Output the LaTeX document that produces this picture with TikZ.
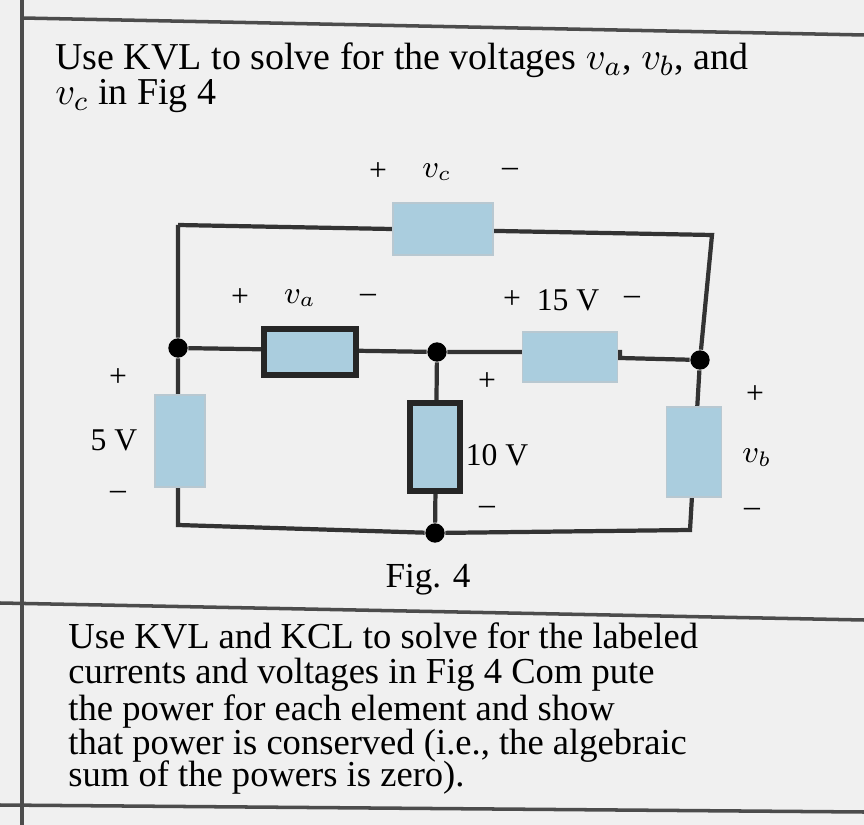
\documentclass[tikz,border=0pt]{standalone}
\usepackage{fontspec}
\setmainfont{Liberation Serif}
\definecolor{elem}{RGB}{170,205,222}
\begin{document}
\begin{tikzpicture}[x=0.01cm,y=-0.01cm,
  wire/.style={line width=1.2pt,black!80},
  box/.style={fill=elem,draw=elem!80!black!60,inner sep=0pt},
  boxd/.style={fill=elem,draw=black!85,line width=1.5pt,inner sep=0pt},
  dot/.style={circle,fill=black,inner sep=0pt,minimum size=5.5pt},
  lbl/.style={font=\fontsize{9}{10}\selectfont},
  big/.style={font=\fontsize{10.8}{13}\selectfont,anchor=west},
  txt/.style={font=\fontsize{10.4}{12}\selectfont,anchor=west}]
\fill[gray!12] (0,0) rectangle (864,825);
\useasboundingbox (0,0) rectangle (864,825);
% table lines
\draw[line width=1pt,black!70] (22,0) -- (22,825);
\draw[line width=1pt,black!70] (22,18) -- (864,35);
\draw[line width=1pt,black!70] (0,603) -- (864,620);
\draw[line width=1pt,black!70] (0,805) -- (864,812);
% text
\node[big] (t1) at (43,60) {Use KVL to solve for the voltages $v_a$, $v_b$, and};
\node[big] (t2) at (43,96) {$v_c$ in Fig 4};
% nodes
\coordinate (tl) at (178,225); \coordinate (tr) at (712,235);
\node[dot] (nl) at (178,348) {};
\node[dot] (nm) at (437,352) {};
\node[dot] (nr) at (700,360) {};
\node[dot] (nb) at (435,533) {};
\coordinate (bl) at (178,525); \coordinate (br) at (690,530);
% wires
\draw[wire] (tl) -- (tr) -- (nr) -- (br) -- (nb) -- (bl) -- (nl) -- (tl);
\draw[wire] (nl) -- (nm) -- (620,352) -- (620,358) -- (nr);
\draw[wire] (nm) -- (nb);
% elements
\node[box,minimum width=1cm,minimum height=0.52cm] (vc) at (443,229) {};
\node[boxd,minimum width=0.92cm,minimum height=0.46cm] (va) at (310,352) {};
\node[box,minimum width=0.95cm,minimum height=0.5cm] (v15) at (570,357) {};
\node[box,minimum width=0.5cm,minimum height=0.92cm] (v5) at (180,441) {};
\node[boxd,minimum width=0.5cm,minimum height=0.88cm] (v10) at (435,447) {};
\node[box,minimum width=0.55cm,minimum height=0.9cm] (vb) at (694,452) {};
% labels
\node[lbl] (pc) at (378,172) {+}; \node[lbl] (lc) at (437,172) {$v_c$}; \node[lbl] (mc) at (510,172) {--};
\node[lbl] (pa) at (240,298) {+}; \node[lbl] (la) at (300,298) {$v_a$}; \node[lbl] (ma) at (368,298) {--};
\node[lbl] (p15) at (512,300) {+}; \node[lbl] (l15) at (568,300) {15 V}; \node[lbl] (m15) at (632,300) {--};
\node[lbl] (p5) at (118,378) {+}; \node[lbl] (l5) at (114,440) {5 V}; \node[lbl] (m5) at (118,495) {--};
\node[lbl] (p10) at (487,382) {+}; \node[lbl] (l10) at (497,455) {10 V}; \node[lbl] (m10) at (487,510) {--};
\node[lbl] (pb) at (755,395) {+}; \node[lbl] (lb) at (757,458) {$v_b$}; \node[lbl] (mb) at (752,512) {--};
\node[lbl,font=\fontsize{10}{12}\selectfont] (fig) at (428,580) {Fig. 4};
\node[txt] (u1) at (56,636) {Use KVL and KCL to solve for the labeled};
\node[txt] (u2) at (56,675) {currents and voltages in Fig 4 Com pute};
\node[txt] (u3) at (56,712) {the power for each element and show};
\node[txt] (u4) at (56,746) {that power is conserved (i.e., the algebraic};
\node[txt] (u5) at (56,778) {sum of the powers is zero).};
\end{tikzpicture}
\end{document}
